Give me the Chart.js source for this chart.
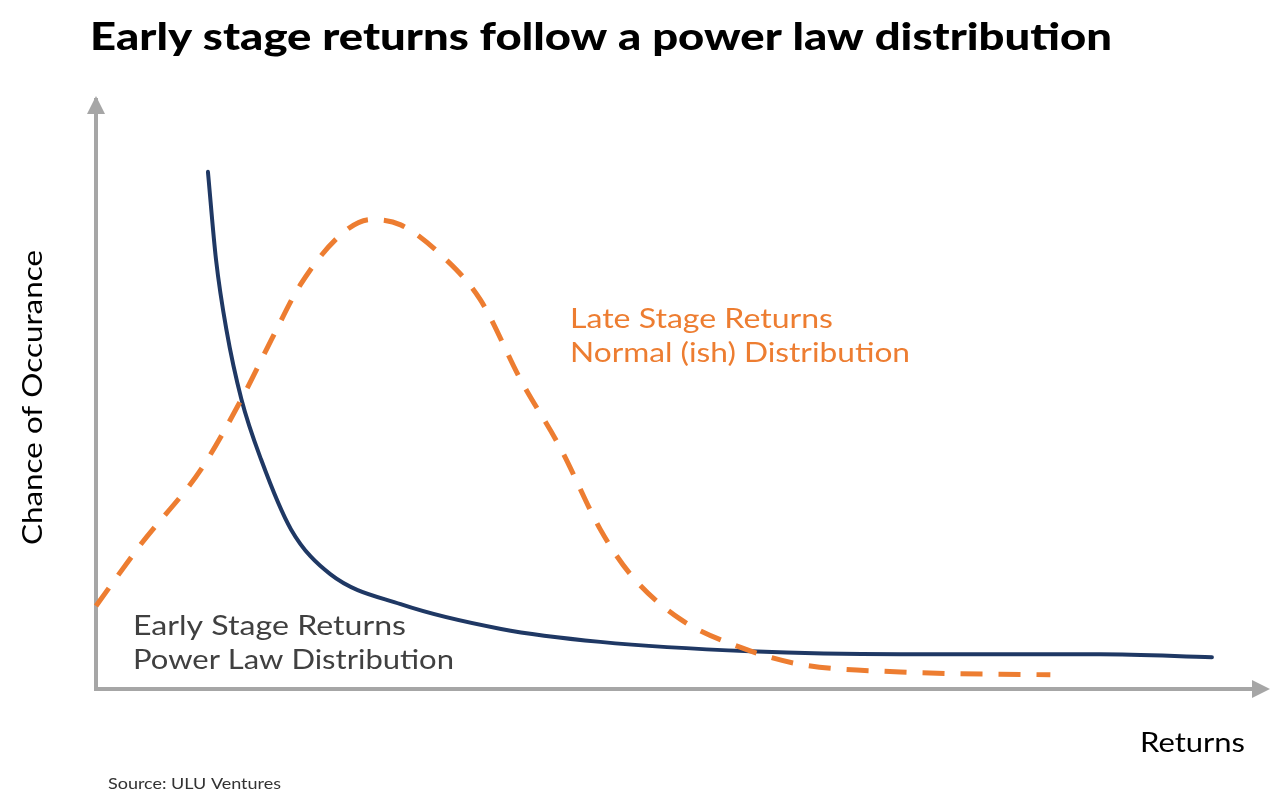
<!DOCTYPE html>
<html>
<head>
<meta charset="utf-8">
<script src="https://cdn.jsdelivr.net/npm/chart.js@4.4.0/dist/chart.umd.min.js"></script>
<style>
  html, body { margin: 0; padding: 0; background: #fff; }
  #wrap { position: relative; width: 1288px; height: 804px; }
  canvas { position: absolute; left: 0; top: 0; }
</style>
</head>
<body>
<div id="wrap"><canvas id="chart" width="1288" height="804"></canvas></div>
<script>
// Returns axis runs 0..100, chance axis 0..100 (shape only, no ticks in the original)
const earlyX = [9.7, 10.4, 11.3, 12.6, 14.3, 16.9, 20.3, 26.4, 35.1, 43.7, 56.7, 69.7, 87.0, 96.7];
const earlyY = [87.8, 72.9, 61.0, 49.2, 39.0, 27.1, 19.5, 14.4, 10.2, 8.0, 6.4, 5.9, 5.9, 5.4];
const lateX = [0, 3.9, 9.1, 12.6, 15.2, 17.7, 21.2, 23.8, 26.4, 29.9, 33.3, 36.8, 40.3, 43.7, 46.3, 50.6, 55.8, 61.0, 69.7, 82.7];
const lateY = [14.1, 24.6, 37.3, 49.2, 59.3, 68.6, 77.1, 79.7, 78.8, 73.7, 66.1, 52.5, 40.7, 27.1, 19.5, 11.9, 7.1, 4.2, 2.9, 2.4];

const toPoints = (xs, ys) => xs.map((x, i) => ({ x, y: ys[i] }));
const axisGray = "#a6a6a6";

// draw text stretched to a target width (the original font is wider than the installed ones)
function fitText(ctx, text, x, y, width) {
  const w = ctx.measureText(text).width;
  ctx.save();
  ctx.translate(x, y);
  ctx.scale(width / w, 1);
  ctx.fillText(text, 0, 0);
  ctx.restore();
}

const textPlugin = {
  id: "texts",
  afterDraw(chart) {
    const { ctx, chartArea: a } = chart;
    ctx.save();
    ctx.fillStyle = axisGray;
    ctx.beginPath();
    ctx.moveTo(a.left, a.top - 4); ctx.lineTo(a.left - 9, a.top + 14); ctx.lineTo(a.left + 9, a.top + 14);
    ctx.fill();
    ctx.beginPath();
    ctx.moveTo(a.right + 20, a.bottom); ctx.lineTo(a.right + 2, a.bottom - 9); ctx.lineTo(a.right + 2, a.bottom + 9);
    ctx.fill();
    ctx.beginPath();
    ctx.strokeStyle = axisGray; ctx.lineWidth = 4;
    ctx.moveTo(a.right - 2, a.bottom); ctx.lineTo(a.right + 4, a.bottom); ctx.stroke();

    ctx.textBaseline = "alphabetic";
    ctx.font = "900 37px Lato";
    ctx.fillStyle = "#000";
    fitText(ctx, "Early stage returns follow a power law distribution", 90, 50, 1022);

    ctx.font = "26px Lato";
    ctx.fillStyle = "#ed7d31";
    fitText(ctx, "Late Stage Returns", 570, 328, 263);
    fitText(ctx, "Normal (ish) Distribution", 570, 362, 340);
    ctx.fillStyle = "#404040";
    fitText(ctx, "Early Stage Returns", 133, 635, 273);
    fitText(ctx, "Power Law Distribution", 133, 669, 321);

    ctx.fillStyle = "#000";
    fitText(ctx, "Returns", 1140, 752, 105);
    ctx.font = "15px Lato";
    ctx.fillStyle = "#333";
    fitText(ctx, "Source: ULU Ventures", 108, 789, 173);

    ctx.translate(42, 545);
    ctx.rotate(-Math.PI / 2);
    ctx.font = "26px Lato";
    ctx.fillStyle = "#000";
    fitText(ctx, "Chance of Occurance", 0, 0, 295);
    ctx.restore();
  }
};

new Chart(document.getElementById("chart"), {
  type: "line",
  data: {
    datasets: [
      {
        label: "Late Stage Returns",
        data: toPoints(lateX, lateY),
        borderColor: "#ed7d31",
        borderWidth: 5,
        borderDash: [22, 16],
        pointRadius: 0,
        tension: 0.4,
        cubicInterpolationMode: "monotone",
      },
      {
        label: "Early Stage Returns",
        data: toPoints(earlyX, earlyY),
        borderColor: "#1f3864",
        borderWidth: 4,
        borderCapStyle: "round",
        pointRadius: 0,
        tension: 0.4,
        cubicInterpolationMode: "monotone",
      },
    ],
  },
  options: {
    responsive: false,
    animation: false,
    clip: false,
    layout: { padding: { left: 88, right: 38, top: 100, bottom: 107 } },
    plugins: { legend: { display: false }, tooltip: { enabled: false } },
    scales: {
      x: {
        type: "linear", min: 0, max: 100,
        grid: { display: false },
        ticks: { display: false },
        border: { display: true, color: axisGray, width: 4 },
      },
      y: {
        min: 0, max: 100,
        grid: { display: false },
        ticks: { display: false },
        border: { display: true, color: axisGray, width: 4 },
      },
    },
  },
  plugins: [textPlugin],
});
</script>
</body>
</html>
